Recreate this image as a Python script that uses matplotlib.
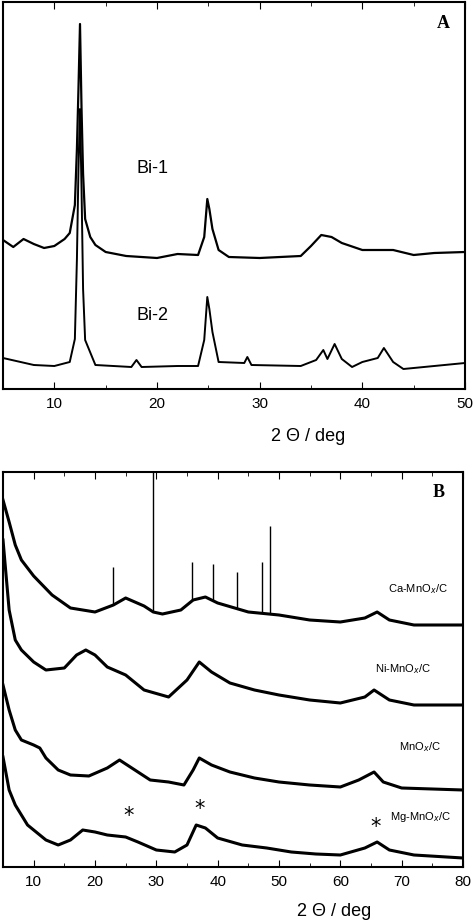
import numpy as np
import matplotlib
matplotlib.use("Agg")
import matplotlib.pyplot as plt

# ---- panel A (arbitrary intensity units)
bi1_x = [5, 6, 7, 8, 9, 10, 11, 11.5, 12, 12.2, 12.35, 12.5, 12.65, 12.8, 13, 13.5, 14, 15, 17, 20, 22, 24, 24.6, 24.9, 25.1, 25.4, 26, 27, 30, 34, 35, 36, 37, 38, 40, 43, 45, 47, 50]
bi1_y = [149, 142, 150, 145, 141, 143, 150, 156, 184, 240, 300, 365, 280, 215, 170, 152, 144, 137, 133, 131, 135, 134, 152, 190, 180, 160, 139, 132, 131, 133, 143, 154, 152, 146, 139, 139, 134, 136, 137]
bi2_x = [5, 8, 10, 11.5, 12, 12.2, 12.35, 12.5, 12.65, 12.8, 13, 14, 17.5, 18, 18.5, 22, 24, 24.6, 24.9, 25.1, 25.4, 26, 28.5, 28.8, 29.2, 34, 35.5, 36.2, 36.6, 37.3, 38, 39, 40, 41.5, 42.1, 43, 44, 47, 50]
bi2_y = [31, 24, 23, 27, 50, 130, 220, 280, 200, 100, 49, 24, 22, 29, 22, 23, 23, 49, 92, 80, 57, 27, 26, 32, 24, 23, 29, 39, 30, 45, 30, 22, 27, 31, 41, 27, 20, 23, 26]

# ---- panel B
ca_x = [5, 6, 7, 8, 10, 13, 16, 20, 23, 25, 28, 29.5, 31, 34, 36, 38, 40, 45, 50, 55, 60, 64, 66, 68, 72, 80]
ca_y = [367, 345, 322, 307, 291, 272, 259, 255, 262, 269, 261, 255, 253, 257, 267, 270, 264, 255, 252, 247, 245, 249, 255, 247, 242, 242]
spike_x = [23, 29.4, 35.8, 39.3, 43.1, 47.3, 48.5]
spike_top = [300, 395, 305, 303, 295, 305, 341]
ni_x = [5, 6, 7, 8, 10, 12, 15, 17, 18.5, 20, 22, 25, 28, 32, 35, 37, 39, 42, 46, 50, 55, 60, 64, 65.5, 68, 72, 80]
ni_y = [327, 257, 227, 217, 205, 197, 199, 212, 217, 212, 200, 192, 177, 170, 187, 205, 195, 184, 177, 172, 167, 164, 170, 177, 167, 162, 162]
mn_x = [5, 6, 7, 8, 10, 11, 12, 14, 16, 19, 22, 24, 26, 29, 32, 34.5, 36, 37, 39, 42, 46, 50, 55, 60, 63, 65.5, 67, 70, 80]
mn_y = [182, 157, 137, 127, 122, 119, 109, 97, 92, 91, 99, 107, 99, 87, 85, 82, 97, 109, 102, 95, 89, 85, 82, 80, 87, 95, 85, 79, 77]
mg_x = [5, 6, 7, 8, 9, 10, 12, 14, 16, 18, 20, 22, 25, 27, 30, 33, 35, 36.5, 38, 40, 44, 48, 52, 56, 60, 64, 66, 68, 72, 80]
mg_y = [110, 77, 62, 52, 42, 37, 27, 22, 27, 37, 35, 32, 30, 25, 17, 15, 22, 42, 39, 29, 22, 19, 15, 13, 12, 19, 25, 17, 12, 9]

fig = plt.figure(figsize=(4.74, 9.23), dpi=100)
sans = ["Liberation Sans", "DejaVu Sans"]
serif = ["Liberation Serif", "DejaVu Serif"]

def style(ax, xmax, major, minor):
    ax.set_xlim(5, xmax)
    ax.set_xticks(np.arange(10, xmax + 1, major))
    ax.set_xticks(np.arange(5, xmax + 1, minor), minor=True)
    ax.set_yticks([])
    ax.tick_params(axis="x", which="both", direction="in", top=True, labelsize=11, pad=6)
    ax.tick_params(axis="x", which="major", length=5)
    ax.tick_params(axis="x", which="minor", length=3)
    for s in ax.spines.values():
        s.set_linewidth(1.5)
    for lab in ax.get_xticklabels():
        lab.set_fontfamily(sans)

axA = fig.add_axes([3 / 474, 1 - 389 / 923, 462 / 474, 387 / 923])
axA.plot(bi1_x, bi1_y, color="black", lw=1.6)
axA.plot(bi2_x, bi2_y, color="black", lw=1.4)
axA.set_ylim(0, 387)
style(axA, 50, 10, 5)
axA.text(18.0, 216, "Bi-1", fontsize=13, family=sans)
axA.text(18.0, 69, "Bi-2", fontsize=13, family=sans)
axA.text(47.3, 361, "A", fontsize=13, family=serif, fontweight="bold")
axA.set_xlabel("2 \u0398 / deg", fontsize=13, family=sans, x=0.66, labelpad=12)

axB = fig.add_axes([3 / 474, 1 - 867 / 923, 460 / 474, 395 / 923])
for xs, ys in [(ca_x, ca_y), (ni_x, ni_y), (mn_x, mn_y), (mg_x, mg_y)]:
    axB.plot(xs, ys, color="black", lw=2.2)
base = np.interp(spike_x, ca_x, ca_y)
axB.vlines(spike_x, base, spike_top, color="black", lw=1.0)
axB.set_ylim(0, 395)
style(axB, 80, 10, 5)
axB.text(72.6, 275, "Ca-MnO$_x$/C", fontsize=8, family=sans, ha="center")
axB.text(70.2, 195, "Ni-MnO$_x$/C", fontsize=8, family=sans, ha="center")
axB.text(73.0, 117, "MnO$_x$/C", fontsize=8, family=sans, ha="center")
axB.text(73.0, 47, "Mg-MnO$_x$/C", fontsize=8, family=sans, ha="center")
for sx, sy in [(25.5, 45), (37.0, 52), (65.8, 34)]:
    axB.text(sx, sy, "*", fontsize=15, ha="center")
axB.text(75.0, 370, "B", fontsize=13, family=serif, fontweight="bold")
axB.set_xlabel("2 \u0398 / deg", fontsize=13, family=sans, x=0.72, labelpad=10)

fig.savefig("out.png", dpi=100)
